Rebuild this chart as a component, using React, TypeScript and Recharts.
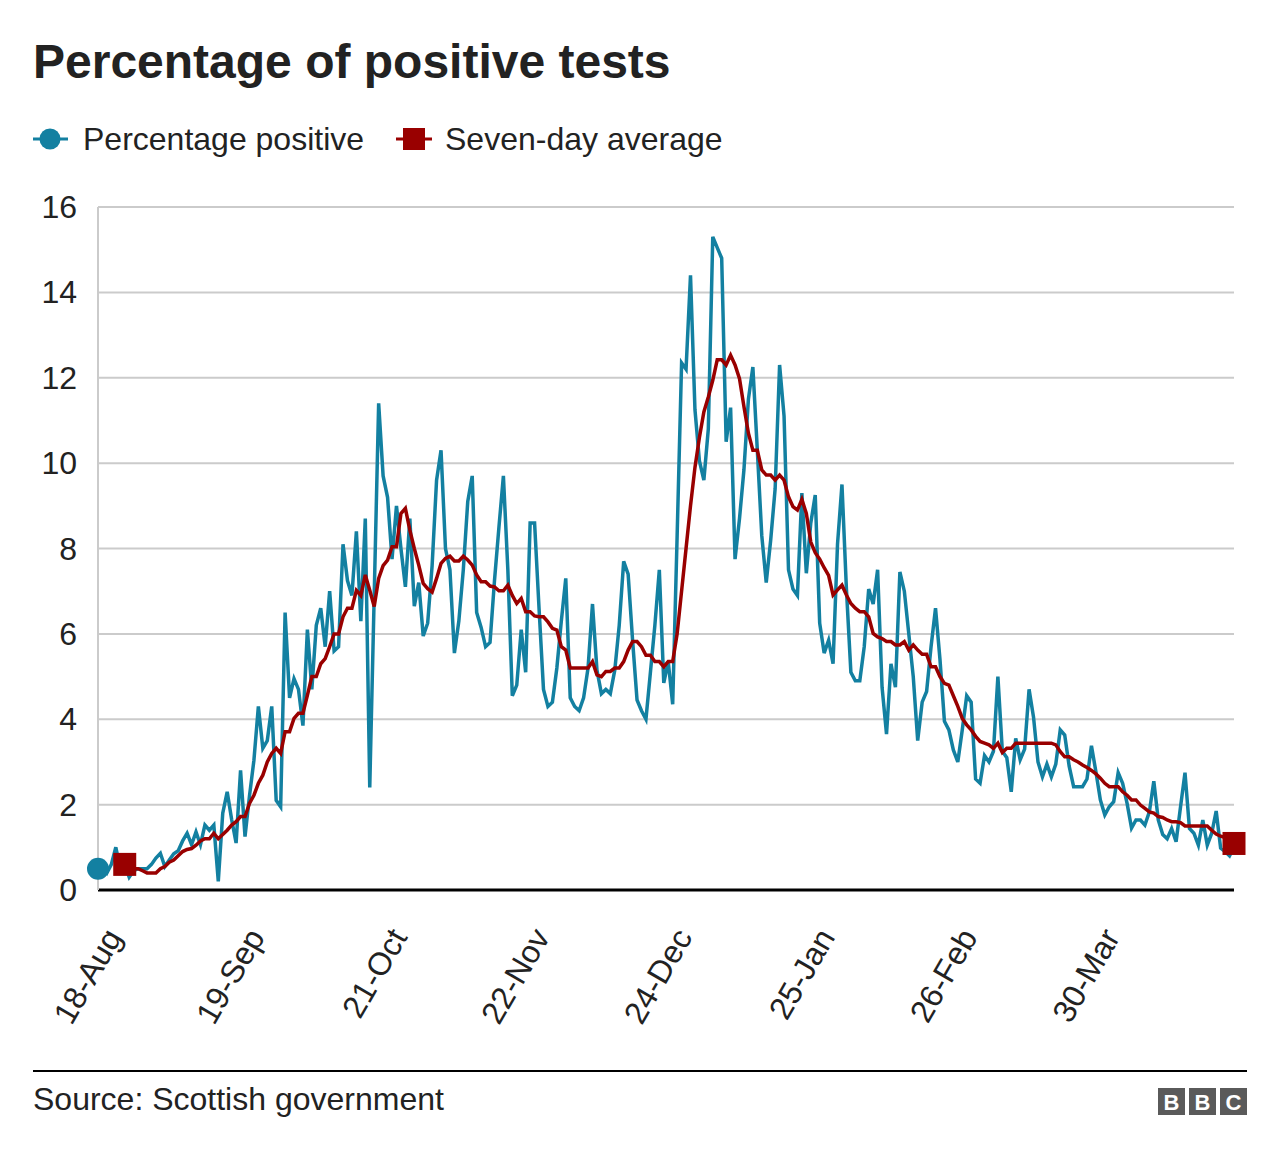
import { LineChart, Line, XAxis, YAxis, CartesianGrid } from "recharts";

const FONT = '"Liberation Sans", Arial, Helvetica, sans-serif';
const BLUE = "#1380A1";
const RED = "#990000";
const GRID = "#cbcbcb";

// x axis: one point per day starting 18-Aug, labels every 32 days
const xTickDays = [0, 32, 64, 96, 128, 160, 192, 224];
const xTickLabels = ["18-Aug", "19-Sep", "21-Oct", "22-Nov", "24-Dec", "25-Jan", "26-Feb", "30-Mar"];
const yTicks = [0, 2, 4, 6, 8, 10, 12, 14, 16];

// daily percentage of positive tests
const percentagePositive = [
  0.5, 0.55, 0.4, 0.6, 1.0, 0.5, 0.6, 0.3, 0.45, 0.5,
  0.5, 0.5, 0.6, 0.75, 0.86, 0.55, 0.7, 0.85, 0.92, 1.15,
  1.33, 1.06, 1.36, 1.06, 1.52, 1.4, 1.52, 0.2, 1.8, 2.3,
  1.65, 1.1, 2.8, 1.25, 2.2, 3.04, 4.3, 3.32, 3.5, 4.3,
  2.1, 1.95, 6.5, 4.5, 4.95, 4.7, 3.85, 6.1, 4.7, 6.2,
  6.6, 5.7, 7.0, 5.6, 5.7, 8.1, 7.25, 6.9, 8.4, 6.3,
  8.7, 2.4, 6.9, 11.4, 9.7, 9.2, 7.75, 9.0, 8.0, 7.1,
  8.7, 6.65, 7.2, 5.95, 6.25, 7.6, 9.6, 10.3, 8.0, 7.5,
  5.55, 6.3, 7.5, 9.1, 9.7, 6.5, 6.15, 5.7, 5.8, 7.25,
  8.5, 9.7, 7.5, 4.55, 4.8, 6.1, 5.1, 8.6, 8.6, 6.6,
  4.7, 4.3, 4.4, 5.2, 6.3, 7.3, 4.5, 4.3, 4.2, 4.5,
  5.2, 6.7, 5.15, 4.6, 4.7, 4.6, 5.15, 6.2, 7.7, 7.4,
  5.85, 4.45, 4.2, 4.0, 5.1, 6.2, 7.5, 4.85, 5.35, 4.35,
  8.3, 12.35, 12.2, 14.4, 11.25, 10.05, 9.6, 10.8, 15.3, 15.05,
  14.8, 10.5, 11.3, 7.75, 8.7, 9.85, 11.5, 12.25, 10.3, 8.3,
  7.2, 8.2, 9.4, 12.3, 11.1, 7.5, 7.05, 6.9, 9.3, 7.42,
  8.6, 9.25, 6.25, 5.55, 5.85, 5.3, 8.1, 9.5, 7.05, 5.1,
  4.9, 4.9, 5.7, 7.05, 6.7, 7.5, 4.75, 3.65, 5.3, 4.75,
  7.45, 7.0, 6.0, 5.0, 3.5, 4.4, 4.65, 5.7, 6.6, 5.4,
  3.95, 3.75, 3.28, 3.0, 3.75, 4.55, 4.4, 2.6, 2.5, 3.15,
  3.0, 3.25, 5.0, 3.25, 3.1, 2.3, 3.55, 3.05, 3.3, 4.7,
  4.05, 3.0, 2.65, 2.95, 2.65, 2.95, 3.75, 3.63, 2.9, 2.42,
  2.42, 2.42, 2.6, 3.38, 2.77, 2.11, 1.76, 1.95, 2.07, 2.75,
  2.5, 2.03, 1.45, 1.64, 1.64, 1.52, 1.83, 2.55, 1.64, 1.3,
  1.2, 1.44, 1.13, 1.95, 2.75, 1.44, 1.33, 1.05, 1.64, 1.05,
  1.33, 1.85, 0.98, 0.9, 0.8, 1.0,
];

// seven-day average, first value on day 6 (24-Aug)
const averageStart = 6;
const sevenDayAverage = [
  0.6, 0.5, 0.5, 0.5,
  0.45, 0.4, 0.4, 0.4, 0.5, 0.55, 0.65, 0.7, 0.8, 0.9,
  0.95, 0.97, 1.05, 1.15, 1.2, 1.2, 1.33, 1.2, 1.3, 1.4,
  1.52, 1.6, 1.72, 1.72, 2.03, 2.22, 2.5, 2.69, 3.0, 3.2,
  3.32, 3.2, 3.71, 3.71, 4.02, 4.14, 4.14, 4.56, 5.0, 5.0,
  5.3, 5.42, 5.7, 6.0, 6.0, 6.4, 6.6, 6.6, 7.02, 6.9,
  7.38, 7.02, 6.64, 7.3, 7.6, 7.73, 8.04, 8.04, 8.82, 8.94,
  8.43, 8.0, 7.61, 7.18, 7.06, 6.98, 7.3, 7.65, 7.77, 7.82,
  7.71, 7.71, 7.82, 7.73, 7.61, 7.38, 7.22, 7.22, 7.12, 7.1,
  7.01, 7.01, 7.14, 6.9, 6.71, 6.83, 6.52, 6.52, 6.42, 6.4,
  6.4, 6.28, 6.13, 6.09, 5.7, 5.62, 5.2, 5.2, 5.2, 5.2,
  5.2, 5.35, 5.04, 5.0, 5.12, 5.12, 5.2, 5.2, 5.35, 5.62,
  5.82, 5.82, 5.7, 5.5, 5.5, 5.35, 5.35, 5.23, 5.35, 5.35,
  6.0, 7.0, 8.0, 9.0, 9.9, 10.6, 11.2, 11.55, 11.94, 12.42,
  12.42, 12.3, 12.53, 12.3, 11.98, 11.32, 10.7, 10.3, 10.3, 9.84,
  9.72, 9.72, 9.6, 9.72, 9.6, 9.21, 8.98, 8.9, 9.15, 8.82,
  8.15, 7.9, 7.75, 7.55, 7.37, 6.91, 7.03, 7.14, 6.91, 6.71,
  6.6, 6.52, 6.52, 6.4, 6.01, 5.93, 5.89, 5.82, 5.82, 5.74,
  5.74, 5.82, 5.62, 5.74, 5.62, 5.52, 5.52, 5.23, 5.23, 5.0,
  4.84, 4.8, 4.55, 4.3, 4.02, 3.87, 3.75, 3.6, 3.48, 3.44,
  3.4, 3.32, 3.44, 3.22, 3.32, 3.32, 3.44, 3.44, 3.44, 3.44,
  3.44, 3.44, 3.44, 3.44, 3.44, 3.4, 3.24, 3.12, 3.12, 3.05,
  3.0, 2.93, 2.87, 2.8, 2.72, 2.62, 2.5, 2.42, 2.42, 2.42,
  2.3, 2.22, 2.11, 2.11, 1.99, 1.91, 1.83, 1.8, 1.72, 1.7,
  1.64, 1.6, 1.6, 1.58, 1.5, 1.5, 1.5, 1.5, 1.5, 1.5,
  1.4, 1.31, 1.26, 1.23, 1.17, 1.09,
];

const chartData = percentagePositive.map((pct, day) => ({
  day,
  pct,
  avg: day >= averageStart ? sevenDayAverage[day - averageStart] : null,
}));

const lastDay = percentagePositive.length - 1;

const DateTick = (props: any) => {
  const { x, payload } = props;
  const label = xTickLabels[xTickDays.indexOf(payload.value)];
  const ax = x + 25;
  const ay = 937;
  return (
    <text
      x={ax}
      y={ay}
      textAnchor="end"
      fontSize={32}
      fontFamily={FONT}
      fill="#222"
      transform={`rotate(-60 ${ax} ${ay})`}
    >
      {label}
    </text>
  );
};

const ValueTick = (props: any) => {
  const { y, payload } = props;
  return (
    <text x={77} y={y} dy={11} textAnchor="end" fontSize={32} fontFamily={FONT} fill="#222">
      {payload.value}
    </text>
  );
};

const renderFirstCircle = (props: any) => {
  const { cx, cy, index } = props;
  if (index !== 0 || cx == null) return <g key={`c-${index}`} />;
  return <circle key={`c-${index}`} cx={cx} cy={cy} r={11} fill={BLUE} />;
};

const renderEndSquares = (props: any) => {
  const { cx, cy, index } = props;
  if ((index !== averageStart && index !== lastDay) || cx == null || cy == null) {
    return <g key={`s-${index}`} />;
  }
  return <rect key={`s-${index}`} x={cx - 11.5} y={cy - 11.5} width={23} height={23} fill={RED} />;
};

export default function App() {
  return (
    <div
      style={{
        position: "absolute",
        left: 0,
        top: 0,
        width: 1280,
        height: 1158,
        background: "#fff",
        fontFamily: FONT,
      }}
    >
      <LineChart
        width={1280}
        height={1158}
        data={chartData}
        margin={{ top: 207, right: 46, bottom: 228, left: 38 }}
      >
        <CartesianGrid vertical={false} stroke={GRID} strokeWidth={2} />
        <XAxis
          type="number"
          dataKey="day"
          domain={[0, lastDay]}
          ticks={xTickDays}
          interval={0}
          height={40}
          tickLine={false}
          axisLine={{ stroke: "#000", strokeWidth: 3 }}
          tick={DateTick}
        />
        <YAxis
          domain={[0, 16]}
          ticks={yTicks}
          interval={0}
          width={60}
          tickLine={false}
          axisLine={{ stroke: GRID, strokeWidth: 2 }}
          tick={ValueTick}
        />
        <Line
          type="linear"
          dataKey="pct"
          stroke={BLUE}
          strokeWidth={3.5}
          dot={renderFirstCircle}
          activeDot={false}
          isAnimationActive={false}
        />
        <Line
          type="linear"
          dataKey="avg"
          stroke={RED}
          strokeWidth={3.5}
          dot={renderEndSquares}
          activeDot={false}
          isAnimationActive={false}
        />
      </LineChart>

      <svg
        width={1280}
        height={1158}
        style={{ position: "absolute", left: 0, top: 0, pointerEvents: "none" }}
        fontFamily={FONT}
      >
        <text x={33} y={78} fontSize={48} fontWeight="bold" fill="#222">
          Percentage of positive tests
        </text>

        <line x1={33} y1={139} x2={68} y2={139} stroke={BLUE} strokeWidth={3} />
        <circle cx={50} cy={139} r={10.5} fill={BLUE} />
        <text x={83} y={150} fontSize={32} fill="#222">
          Percentage positive
        </text>

        <line x1={396} y1={139} x2={432} y2={139} stroke={RED} strokeWidth={3} />
        <rect x={403} y={128} width={22} height={22} fill={RED} />
        <text x={445} y={150} fontSize={32} fill="#222">
          Seven-day average
        </text>

        <line x1={33} y1={1071} x2={1247} y2={1071} stroke="#000" strokeWidth={2} />
        <text x={33} y={1110} fontSize={32} fill="#222">
          Source: Scottish government
        </text>

        {["B", "B", "C"].map((letter, i) => (
          <g key={i}>
            <rect x={1158 + i * 31} y={1088} width={27} height={27} fill="#5a5a5a" />
            <text
              x={1158 + i * 31 + 13.5}
              y={1110}
              fontSize={22}
              fontWeight="bold"
              fill="#fff"
              textAnchor="middle"
            >
              {letter}
            </text>
          </g>
        ))}
      </svg>
    </div>
  );
}
